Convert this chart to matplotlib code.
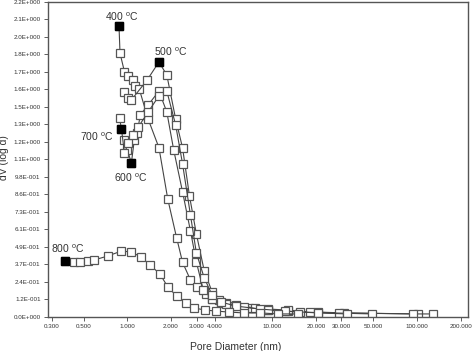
import matplotlib
matplotlib.use("Agg")
import matplotlib.pyplot as plt
from matplotlib.ticker import NullLocator

plt.rcParams['font.family'] = ['Liberation Sans', 'DejaVu Sans']

# pore diameter (nm) and dV (log d) for each calcination temperature
x400 = [0.875, 0.889, 0.954, 1.016, 1.099, 1.133, 1.207, 1.390, 1.651, 1.901, 2.188, 2.404,
        2.725, 3.041, 3.501, 3.846, 4.429, 5.428, 6.866, 9.394, 12.85, 20.56, 31.37, 101.6]
y400 = [2.03, 1.84, 1.71, 1.68, 1.65, 1.61, 1.59, 1.38, 1.18, 0.82, 0.55, 0.38,
        0.257, 0.208, 0.159, 0.124, 0.096, 0.075, 0.061, 0.047, 0.040, 0.033, 0.027, 0.020]

x500 = [0.954, 1.016, 1.065, 1.368, 1.651, 1.871, 2.154, 2.404, 2.683, 2.994, 3.394,
        3.846, 4.294, 4.789, 5.601, 7.662, 9.394, 12.85, 18.14, 29.01, 93.93, 128.5]
y500 = [1.568, 1.527, 1.513, 1.652, 1.778, 1.687, 1.380, 1.178, 0.843, 0.578, 0.320,
        0.173, 0.117, 0.096, 0.082, 0.061, 0.054, 0.047, 0.033, 0.027, 0.020, 0.020]

x600 = [0.954, 1.0, 1.065, 1.116, 1.170, 1.226, 1.390, 1.651, 1.871, 2.088, 2.404,
        2.725, 2.994, 3.341, 3.846, 4.789, 6.349, 9.394, 15.50, 48.66]
y600 = [1.234, 1.164, 1.073, 1.234, 1.282, 1.408, 1.478, 1.575, 1.429, 1.164, 0.871,
        0.599, 0.382, 0.187, 0.124, 0.089, 0.068, 0.047, 0.033, 0.020]

x700 = [0.882, 0.910, 0.954, 1.016, 1.099, 1.188, 1.390, 1.651, 1.871, 2.154, 2.404,
        2.725, 2.994, 3.394, 3.846, 4.429, 5.601, 8.286, 12.26, 20.56, 32.89]
y700 = [1.387, 1.310, 1.143, 1.213, 1.268, 1.324, 1.429, 1.541, 1.575, 1.338, 1.066,
        0.710, 0.445, 0.271, 0.152, 0.103, 0.075, 0.054, 0.040, 0.027, 0.020]

x800 = [0.373, 0.429, 0.472, 0.534, 0.587, 0.731, 0.910, 1.065, 1.245, 1.434, 1.677,
        1.901, 2.188, 2.520, 2.901, 3.447, 4.096, 5.019, 6.349, 8.286, 10.99, 15.03]
y800 = [0.389, 0.382, 0.382, 0.389, 0.396, 0.424, 0.459, 0.452, 0.417, 0.361, 0.299,
        0.208, 0.145, 0.096, 0.061, 0.047, 0.040, 0.033, 0.027, 0.027, 0.020, 0.020]

series = [(x400, y400, 0), (x500, y500, 4), (x600, y600, 2), (x700, y700, 1), (x800, y800, 0)]

labels = ['400', '500', '600', '700', '800']
label_pos = [(122, 17), (171, 52), (131, 178), (97, 137), (68, 249)]  # pixels

xticks = [0.3, 0.5, 1, 2, 3, 4, 10, 20, 30, 50, 100, 200]
xticklabels = ['0.300', '0.500', '1.000', '2.000', '3.000', '4.000', '10.000',
               '20.000', '30.000', '50.000', '100.000', '200.000']
yticks = [k * 2.2 / 18 for k in range(19)]
yticklabels = ['0.0E+000', '1.2E-001', '2.4E-001', '3.7E-001', '4.9E-001', '6.1E-001',
               '7.3E-001', '8.6E-001', '9.8E-001', '1.1E+000', '1.2E+000', '1.3E+000',
               '1.5E+000', '1.6E+000', '1.7E+000', '1.8E+000', '2.0E+000', '2.1E+000',
               '2.2E+000']

W, H = 474, 351
fig = plt.figure(figsize=(W / 100, H / 100), dpi=100)
ax = fig.add_axes([47.5 / W, 1 - 316.8 / H, (468 - 47.5) / W, (316.8 - 1.5) / H])

for xs, ys, hi in series:
    ax.plot(xs, ys, '-', color='#444444', lw=0.8, marker='s', ms=5.8,
            mfc='white', mec='#555555', mew=0.9, zorder=2)
    ax.plot(xs[hi], ys[hi], 's', ms=5.8, mfc='black', mec='black', zorder=3)

ax.set_xscale('log')
ax.set_xlim(0.2807, 224.8)
ax.set_ylim(0, 2.2)
ax.set_xticks(xticks)
ax.set_xticklabels(xticklabels)
ax.xaxis.set_minor_locator(NullLocator())
ax.set_yticks(yticks)
ax.set_yticklabels(yticklabels)
ax.tick_params(axis='both', direction='out', length=3, width=0.6, color='#444444',
               labelsize=4.5, labelcolor='#333333', pad=2)

for s in ax.spines.values():
    s.set_color('#555555')
    s.set_linewidth(1.0)

for lab, (px, py) in zip(labels, label_pos):
    fig.text(px / W, 1 - py / H, lab + r' $^{\mathregular{o}}$C', fontsize=7.5,
             color='#333333', ha='center', va='center')

fig.text(236 / W, 1 - 347 / H, 'Pore Diameter (nm)', fontsize=7.5, color='#333333',
         ha='center', va='center')
fig.text(4 / W, 1 - 158 / H, 'dV (log d)', fontsize=7.5, color='#333333',
         ha='center', va='center', rotation=90)

fig.savefig('out.png', dpi=100)
